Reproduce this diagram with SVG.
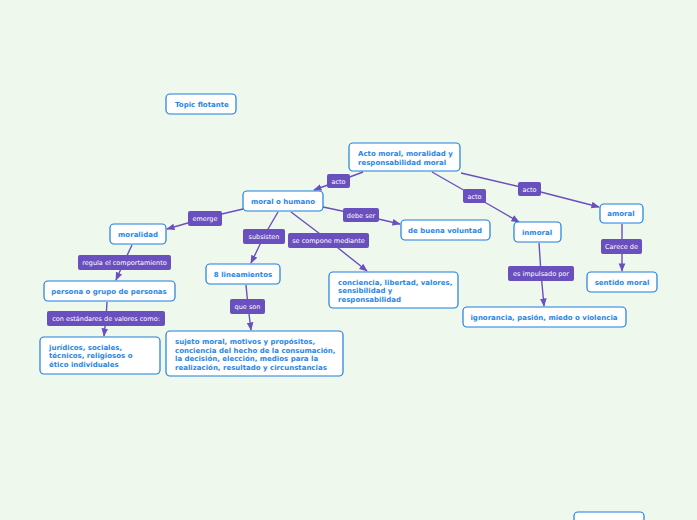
<svg xmlns="http://www.w3.org/2000/svg" width="697" height="520" viewBox="0 0 697 520">
<style>
.n rect{fill:#fff;stroke:#1c7fe0;stroke-width:1.2}
.n text{font-family:"DejaVu Sans",sans-serif;font-weight:bold;font-size:7px;fill:#2a86e6}
.l rect{fill:#6a4fbf}
.l text{font-family:"DejaVu Sans",sans-serif;font-size:6.5px;fill:#fff;text-anchor:middle}
.e path{fill:none;stroke:#6a4fbf;stroke-width:1.4;marker-end:url(#a)}
</style>
<defs><marker id="a" viewBox="0 0 10 10" refX="9" refY="5" markerWidth="6" markerHeight="6" orient="auto"><path d="M0,1L10,5L0,9z" fill="#6a4fbf"/></marker></defs>
<rect width="697" height="520" fill="#eff8ec"/>
<g class="e">
<path d="M363,172L339,181L314,190"/>
<path d="M432,172L474,196L519,222"/>
<path d="M461,173L529,189L599,207"/>
<path d="M243,209L205,218L167,229"/>
<path d="M323,207L361,215L400,224"/>
<path d="M278,212L264,236L251,263"/>
<path d="M291,212L328,240L367,271"/>
<path d="M132,245L124,262L116,280"/>
<path d="M107,302L106,318L104,336"/>
<path d="M246,285L248,306L251,330"/>
<path d="M539,243L541,273L544,306"/>
<path d="M622,224L622,246L622,271"/>
</g>
<g id="n0" class="n"><rect x="166" y="94" width="70" height="20" rx="4"/><text x="175" y="107">Topic flotante</text></g>
<g id="n1" class="n"><rect x="349" y="143" width="111" height="28" rx="4"/><text x="358" y="156">Acto moral, moralidad y</text><text x="358" y="165">responsabilidad moral</text></g>
<g id="n2" class="n"><rect x="243" y="191" width="80" height="20" rx="4"/><text x="283" y="204" text-anchor="middle">moral o humano</text></g>
<g id="n3" class="n"><rect x="110" y="224" width="56" height="20" rx="4"/><text x="138" y="237" text-anchor="middle">moralidad</text></g>
<g id="n4" class="n"><rect x="44" y="281" width="131" height="20" rx="4"/><text x="109" y="294" text-anchor="middle">persona o grupo de personas</text></g>
<g id="n5" class="n"><rect x="40" y="337" width="120" height="37" rx="4"/><text x="49" y="350">jurídicos, sociales,</text><text x="49" y="358">técnicos, religiosos o</text><text x="49" y="367">ético individuales</text></g>
<g id="n6" class="n"><rect x="206" y="264" width="74" height="20" rx="4"/><text x="243" y="277" text-anchor="middle">8 lineamientos</text></g>
<g id="n7" class="n"><rect x="166" y="331" width="177" height="45" rx="4"/><text x="175" y="344">sujeto moral, motivos y propósitos,</text><text x="175" y="353">conciencia del hecho de la consumación,</text><text x="175" y="361">la decisión, elección, medios para la</text><text x="175" y="370">realización,  resultado y circunstancias</text></g>
<g id="n8" class="n"><rect x="329" y="272" width="129" height="36" rx="4"/><text x="338" y="285">conciencia, libertad, valores,</text><text x="338" y="293">sensibilidad y</text><text x="338" y="302">responsabilidad</text></g>
<g id="n9" class="n"><rect x="401" y="220" width="89" height="20" rx="4"/><text x="445" y="233" text-anchor="middle">de buena voluntad</text></g>
<g id="n10" class="n"><rect x="514" y="222" width="47" height="20" rx="4"/><text x="537" y="235" text-anchor="middle">inmoral</text></g>
<g id="n11" class="n"><rect x="463" y="307" width="163" height="20" rx="4"/><text x="544" y="320" text-anchor="middle">ignorancia, pasión, miedo o violencia</text></g>
<g id="n12" class="n"><rect x="600" y="204" width="43" height="19" rx="4"/><text x="621" y="216" text-anchor="middle">amoral</text></g>
<g id="n13" class="n"><rect x="587" y="272" width="70" height="20" rx="4"/><text x="622" y="285" text-anchor="middle">sentido moral</text></g>
<g id="n14" class="n"><rect x="574" y="512" width="70" height="20" rx="4"/></g>
<g class="l">
<g><rect x="327" y="174" width="23" height="14" rx="2"/><text x="338.5" y="184">acto</text></g>
<g><rect x="463" y="189" width="23" height="14" rx="2"/><text x="474.5" y="199">acto</text></g>
<g><rect x="518" y="182" width="23" height="14" rx="2"/><text x="529.5" y="192">acto</text></g>
<g><rect x="188" y="211" width="34" height="15" rx="2"/><text x="205" y="221">emerge</text></g>
<g><rect x="343" y="208" width="36" height="14" rx="2"/><text x="361" y="218">debe ser</text></g>
<g><rect x="243" y="229" width="42" height="15" rx="2"/><text x="264" y="239">subsisten</text></g>
<g><rect x="288" y="233" width="81" height="15" rx="2"/><text x="328.5" y="243">se compone mediante</text></g>
<g><rect x="78" y="255" width="93" height="15" rx="2"/><text x="124.5" y="265">regula el comportamiento</text></g>
<g><rect x="47" y="311" width="118" height="15" rx="2"/><text x="106" y="321">con estándares de valores como:</text></g>
<g><rect x="230" y="299" width="35" height="15" rx="2"/><text x="247.5" y="309">que son</text></g>
<g><rect x="508" y="266" width="66" height="15" rx="2"/><text x="541" y="276">es impulsado por</text></g>
<g><rect x="601" y="239" width="41" height="15" rx="2"/><text x="621.5" y="249">Carece de</text></g>
</g>
</svg>
